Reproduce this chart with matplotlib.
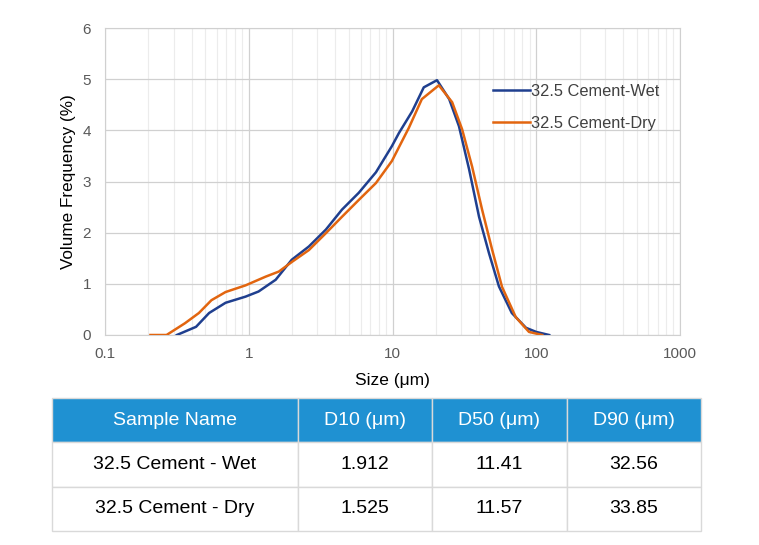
import numpy as np
import matplotlib
matplotlib.use("Agg")
import matplotlib.pyplot as plt
from matplotlib.ticker import LogLocator, FixedLocator, FixedFormatter

plt.rcParams['font.family'] = ['Liberation Sans', 'DejaVu Sans']

# particle size distribution
wet_size = [0.316, 0.43, 0.53, 0.69, 0.95, 1.17, 1.54, 1.99, 2.62, 3.44, 4.45, 5.83,
            7.67, 9.9, 11.1, 13.7, 16.5, 20.4, 24.8, 29.0, 34.1, 40.0, 46.9, 55.0,
            67.6, 84.9, 100, 123]
wet_freq = [0.0, 0.16, 0.43, 0.63, 0.75, 0.85, 1.08, 1.47, 1.73, 2.06, 2.45, 2.78,
            3.18, 3.69, 3.95, 4.37, 4.84, 4.98, 4.61, 4.08, 3.24, 2.31, 1.6, 0.95,
            0.43, 0.14, 0.06, 0.0]
dry_size = [0.207, 0.268, 0.36, 0.45, 0.55, 0.69, 0.95, 1.31, 1.62, 2.0, 2.62, 3.44,
            4.45, 5.83, 7.67, 9.9, 13.0, 16.0, 21.0, 26.0, 30.5, 35.8, 42.0, 49.3,
            57.8, 72.0, 89.0, 110]
dry_freq = [0.0, 0.0, 0.23, 0.43, 0.68, 0.84, 0.97, 1.14, 1.24, 1.43, 1.66, 1.99,
            2.31, 2.64, 2.97, 3.40, 4.05, 4.61, 4.88, 4.55, 4.02, 3.29, 2.45, 1.67,
            0.94, 0.35, 0.06, 0.0]

col_labels = ['Sample Name', 'D10 (μm)', 'D50 (μm)', 'D90 (μm)']
samples = ['32.5 Cement - Wet', '32.5 Cement - Dry']
d10 = ['1.912', '1.525']
d50 = ['11.41', '11.57']
d90 = ['32.56', '33.85']

fig = plt.figure(figsize=(7.59, 5.45), dpi=100)
ax = fig.add_axes([105/759, 1-335/545, 575/759, 307/545])

ax.plot(wet_size, wet_freq, color='#1f3f8f', lw=1.8, label='32.5 Cement-Wet', zorder=3)
ax.plot(dry_size, dry_freq, color='#e2650f', lw=1.8, label='32.5 Cement-Dry', zorder=3)

ax.set_xscale('log')
ax.set_xlim(0.1, 1000)
ax.set_ylim(0, 6)
ax.xaxis.set_major_locator(FixedLocator([0.1, 1, 10, 100, 1000]))
ax.xaxis.set_major_formatter(FixedFormatter(['0.1', '1', '10', '100', '1000']))
ax.xaxis.set_minor_locator(LogLocator(base=10, subs=np.arange(2, 10)))
ax.xaxis.set_minor_formatter(FixedFormatter([]))
ax.set_yticks(range(7))

ax.grid(which='major', color='#d0d0d0', lw=0.9)
ax.grid(which='minor', axis='x', color='#ececec', lw=0.8)
for s in ax.spines.values():
    s.set_color('#d0d0d0')
ax.tick_params(which='both', length=0, colors='#595959', labelsize=11)
ax.tick_params(axis='y', pad=10)
ax.tick_params(axis='x', pad=9)

ax.set_xlabel('Size (μm)', fontsize=12.5, labelpad=8)
ax.set_ylabel('Volume Frequency (%)', fontsize=12.3, labelpad=5)

leg = ax.legend(loc='upper left', bbox_to_anchor=(0.675, 0.817), frameon=False,
                fontsize=11.8, handlelength=2.25, handletextpad=0.05,
                labelspacing=1.0, borderpad=0, borderaxespad=0)
for t in leg.get_texts():
    t.set_color('#404040')

# summary table
tax = fig.add_axes([52/759, 1-531/545, 649/759, 133/545])
tax.axis('off')
rows = [[samples[i], d10[i], d50[i], d90[i]] for i in range(len(samples))]
tbl = tax.table(cellText=rows, colLabels=col_labels, bbox=[0, 0, 1, 1],
                colWidths=[246, 134, 135, 134], cellLoc='center')
tbl.auto_set_font_size(False)
for (r, c), cell in tbl.get_celld().items():
    cell.set_edgecolor('#d9d9d9')
    cell.set_linewidth(1.0)
    cell.get_text().set_fontsize(14)
    if r == 0:
        cell.set_facecolor('#1f91d2')
        cell.get_text().set_color('white')
    else:
        cell.set_facecolor('white')
        cell.get_text().set_color('black')

fig.savefig('out.png', dpi=100)
